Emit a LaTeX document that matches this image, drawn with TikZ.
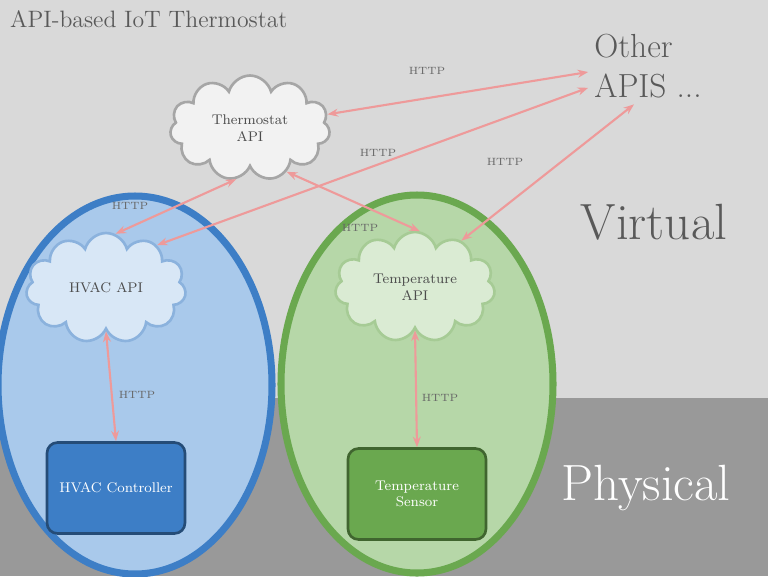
\documentclass[tikz,border=0pt]{standalone}
\usepackage{tikz}
\usetikzlibrary{shapes.symbols, arrows.meta}
\definecolor{skygray}{HTML}{D9D9D9}
\definecolor{groundgray}{HTML}{999999}
\definecolor{linkpink}{HTML}{EE9A9A}
\definecolor{hvacfill}{HTML}{A9C9EB}
\definecolor{hvacline}{HTML}{3D7EC6}
\definecolor{tempfill}{HTML}{B6D7A8}
\definecolor{templine}{HTML}{6AA84F}
\tikzstyle{api}=[cloud, cloud puffs=11, cloud ignores aspect, draw, line width=1.5pt, align=center, font=\fontsize{8}{9.5}\selectfont, text=black!70]
\tikzstyle{device}=[draw, rounded corners=6pt, line width=1.5pt, align=center, text=white, font=\fontsize{8}{9.5}\selectfont, minimum width=2.76cm, minimum height=1.82cm]
\tikzstyle{link}=[{Stealth[length=6pt]}-{Stealth[length=6pt]}, linkpink, line width=1.2pt]
\tikzstyle{proto}=[font=\fontsize{6}{7}\selectfont, text=black!60]
\tikzset{>=stealth}

\begin{document}
\begin{tikzpicture}[x=0.02cm, y=-0.02cm]
\useasboundingbox (0,0) rectangle (768,576);
\clip (0,0) rectangle (768,576);
% the two worlds
\fill[skygray] (0,0) rectangle (768,398);
\fill[groundgray] (0,398) rectangle (768,576);
\node[anchor=north west, text=black!65, font=\fontsize{13.5}{16}\selectfont] (title) at (4,4) {API-based IoT Thermostat};
\node[text=black!65, font=\fontsize{29}{33}\selectfont] (virt) at (654,222) {Virtual};
\node[text=white, font=\fontsize{29}{33}\selectfont] (phys) at (646,488) {Physical};
\node[text=black!65, align=left, font=\fontsize{19}{23}\selectfont] (other) at (648,66) {Other\\APIS ...};
% the two ellipses
\draw[fill=hvacfill, draw=hvacline, line width=4pt] (135,385) ellipse [x radius=137, y radius=189];
\draw[fill=tempfill, draw=templine, line width=4pt] (417,384) ellipse [x radius=136, y radius=189];
% the clouds
\node[api, fill=black!5, draw=black!35, minimum width=3.2cm, minimum height=2.1cm] (thermo) at (250,128) {Thermostat\\API};
\node[api, fill=hvacfill!45, draw=hvacline!60, minimum width=3.2cm, minimum height=2.2cm] (hvac) at (106,288) {HVAC API};
\node[api, fill=tempfill!50, draw=templine!60, minimum width=3.2cm, minimum height=2.2cm] (temp) at (415,287) {Temperature\\API};
% the devices
\node[device, fill=hvacline, draw=hvacline!60!black] (ctrl) at (116,488) {HVAC Controller};
\node[device, fill=templine, draw=templine!60!black] (sensor) at (417,494) {Temperature\\Sensor};
% the links
\draw[link] (thermo.10) -- (other.west |- 0,72);
\draw[link] (hvac.40) -- (other.200);
\draw[link] (temp.45) -- (other.250);
\draw[link] (thermo.255) -- (hvac.80);
\draw[link] (thermo.310) -- (temp.85);
\draw[link] (hvac.south) -- (ctrl.north);
\draw[link] (temp.south) -- (sensor.north);
% the labels
\node[proto] (h1) at (427,71) {HTTP};
\node[proto] (h2) at (378,153) {HTTP};
\node[proto] (h3) at (505,162) {HTTP};
\node[proto] (h4) at (130,206) {HTTP};
\node[proto] (h5) at (360,228) {HTTP};
\node[proto] (h6) at (137,395) {HTTP};
\node[proto] (h7) at (440,398) {HTTP};
\end{tikzpicture}
\end{document}
